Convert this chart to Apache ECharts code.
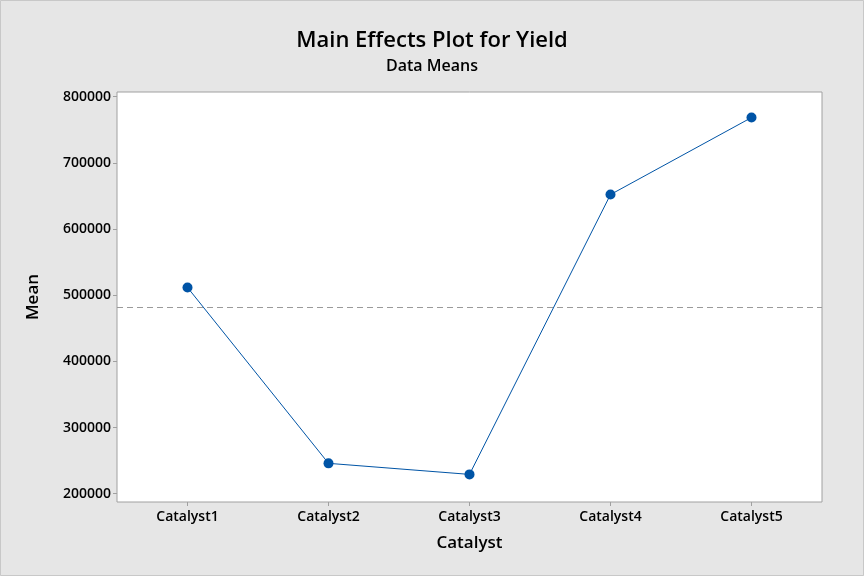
<!DOCTYPE html>
<html>
<head>
<meta charset="utf-8">
<script src="https://cdn.jsdelivr.net/npm/echarts@6/dist/echarts.min.js"></script>
<style>
html,body{margin:0;padding:0;background:#e6e6e6;}
#chart{width:864px;height:576px;}
</style>
</head>
<body>
<div id="chart"></div>
<script>
var categories = ['Catalyst1', 'Catalyst2', 'Catalyst3', 'Catalyst4', 'Catalyst5'];
var means = [511600, 245900, 229200, 652000, 768300];
var yTicks = [200000, 300000, 400000, 500000, 600000, 700000, 800000];

var FONT = '"Open Sans", "Noto Sans", sans-serif';
var chart = echarts.init(document.getElementById('chart'), null, {renderer: 'canvas'});
chart.setOption({
  backgroundColor: '#e6e6e6',
  animation: false,
  title: {
    text: 'Main Effects Plot for Yield',
    subtext: 'Data Means',
    left: 'center',
    top: 25,
    itemGap: 6,
    textStyle: {fontFamily: FONT, fontSize: 22, fontWeight: 600, color: '#000'},
    subtextStyle: {fontFamily: FONT, fontSize: 16, fontWeight: 600, color: '#000'}
  },
  graphic: [{
    type: 'rect', shape: {x: 0.5, y: 0.5, width: 863, height: 575},
    style: {fill: 'none', stroke: '#c8c8c8', lineWidth: 1}, silent: true
  }],
  grid: {
    left: 117, right: 42, top: 92, bottom: 74,
    show: true, backgroundColor: '#fff', borderColor: '#a0a0a0', borderWidth: 1
  },
  xAxis: {
    type: 'category',
    data: categories,
    boundaryGap: true,
    name: 'Catalyst',
    nameLocation: 'middle',
    nameGap: 33,
    nameTextStyle: {fontFamily: FONT, fontSize: 17, fontWeight: 600, color: '#000'},
    axisLine: {show: false},
    axisTick: {show: true, alignWithLabel: true, length: 4, lineStyle: {color: '#a0a0a0'}},
    axisLabel: {fontFamily: FONT, fontSize: 14, fontWeight: 600, color: '#000', margin: 8},
    splitLine: {show: false}
  },
  yAxis: {
    type: 'value',
    min: 187500,
    max: 806900,
    name: 'Mean',
    nameLocation: 'middle',
    nameGap: 75,
    nameTextStyle: {fontFamily: FONT, fontSize: 17, fontWeight: 600, color: '#000'},
    axisLine: {show: false},
    axisTick: {show: true, length: 4, customValues: yTicks, lineStyle: {color: '#a0a0a0'}},
    axisLabel: {
      fontFamily: FONT, fontSize: 14, fontWeight: 600, color: '#000', margin: 6,
      customValues: yTicks,
      formatter: function (v) { return String(v); }
    },
    splitLine: {show: false}
  },
  series: [{
    type: 'line',
    data: means,
    symbol: 'circle',
    symbolSize: 10,
    lineStyle: {color: '#0054a6', width: 1},
    itemStyle: {color: '#0054a6'},
    markLine: {
      silent: true,
      symbol: 'none',
      label: {show: false},
      lineStyle: {color: '#9a9a9a', type: [6, 4], width: 1},
      data: [{type: 'average'}]
    }
  }]
});
</script>
</body>
</html>
